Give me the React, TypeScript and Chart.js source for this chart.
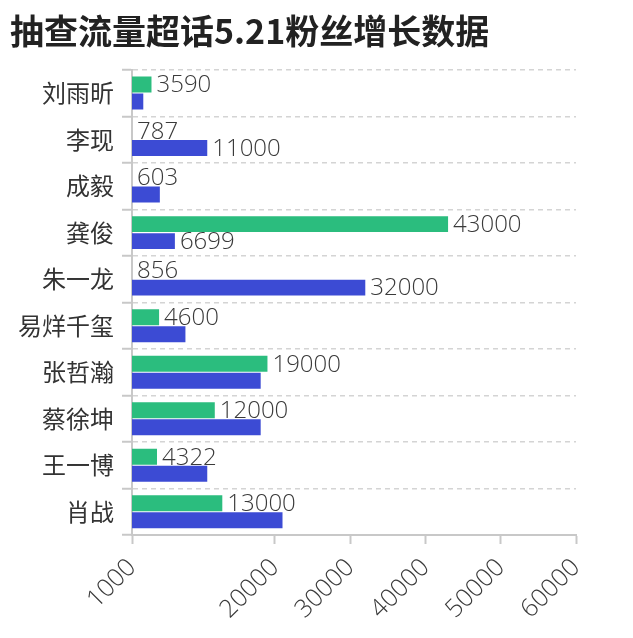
import React, { useEffect, useRef } from "react";
import { Chart, registerables } from "chart.js";

Chart.register(...registerables);

const titleText = "抽查流量超话5.21粉丝增长数据";
const categories = ["刘雨昕", "李现", "成毅", "龚俊", "朱一龙", "易烊千玺", "张哲瀚", "蔡徐坤", "王一博", "肖战"];
const greenValues = [3590, 787, 603, 43000, 856, 4600, 19000, 12000, 4322, 13000];
const blueValues = [2500, 11000, 4700, 6699, 32000, 8100, 18100, 18100, 11000, 21000];
const greenLabels = ["3590", "787", "603", "43000", "856", "4600", "19000", "12000", "4322", "13000"];
const blueLabels = [null, "11000", null, "6699", "32000", null, null, null, null, null];
const xTickValues = [1000, 20000, 30000, 40000, 50000, 60000];
const xMin = 1000;
const xMax = 60000;

const FONT = "'Noto Sans CJK SC', 'Noto Sans', sans-serif";
const NUMFONT = "'Open Sans', 'Noto Sans CJK SC', sans-serif";

const valueLabelPlugin = {
  id: "valueLabels",
  afterDatasetsDraw(chart: any) {
    const ctx = chart.ctx;
    const area = chart.chartArea;
    const labelSets = [greenLabels, blueLabels];
    ctx.save();
    ctx.font = `300 24px ${NUMFONT}`;
    ctx.fillStyle = "#3a3a3a";
    ctx.textAlign = "left";
    ctx.textBaseline = "middle";
    chart.data.datasets.forEach((ds: any, di: number) => {
      const meta = chart.getDatasetMeta(di);
      const labels = labelSets[di];
      meta.data.forEach((el: any, i: number) => {
        const t = labels[i];
        if (t == null) return;
        const x = Math.max(el.x, area.left) + 5;
        ctx.fillText(t, x, el.y + 1);
      });
    });
    ctx.restore();
  },
};

export default function App() {
  const ref = useRef<HTMLCanvasElement | null>(null);
  useEffect(() => {
    if (!ref.current) return;
    const chart = new Chart(ref.current, {
      type: "bar",
      data: {
        labels: categories,
        datasets: [
          {
            label: "a",
            data: greenValues,
            backgroundColor: "#2bbd7e",
            categoryPercentage: 0.73,
            barPercentage: 0.94,
            clip: 0,
          },
          {
            label: "b",
            data: blueValues,
            backgroundColor: "#3c4bd4",
            categoryPercentage: 0.73,
            barPercentage: 0.94,
            clip: 0,
          },
        ],
      },
      options: {
        indexAxis: "y",
        animation: false,
        responsive: false,
        maintainAspectRatio: false,
        layout: { padding: { left: 10, right: 57, top: 0, bottom: 0 } },
        plugins: {
          legend: { display: false },
          tooltip: { enabled: false },
          title: {
            display: true,
            text: titleText,
            align: "start",
            color: "#222",
            font: { family: FONT, size: 34, weight: "bold" },
            padding: { top: 11, bottom: 18 },
          },
        },
        scales: {
          x: {
            type: "linear",
            min: xMin,
            max: xMax,
            afterBuildTicks: (scale: any) => {
              scale.ticks = xTickValues.map((v) => ({ value: v }));
            },
            afterFit: (scale: any) => {
              scale.height = 103;
            },
            ticks: {
              autoSkip: false,
              minRotation: 45,
              maxRotation: 45,
              color: "#3a3a3a",
              font: { family: NUMFONT, size: 25, weight: "300" },
              padding: 9,
              callback: (v: any) => String(v),
            },
            grid: {
              drawOnChartArea: false,
              drawTicks: true,
              tickLength: 9,
              tickColor: "#c8c8c8",
              tickWidth: 2,
            },
            border: { display: true, color: "#c8c8c8", width: 2 },
          },
          y: {
            type: "category",
            afterFit: (scale: any) => {
              scale.width = 122;
            },
            ticks: {
              color: "#333",
              font: { family: FONT, size: 24 },
              padding: 8,
            },
            grid: {
              offset: true,
              color: "#d4d4d4",
              lineWidth: 1.5,
              drawTicks: true,
              tickLength: 10,
              tickColor: "#c8c8c8",
              tickWidth: 2,
              tickBorderDash: [],
            },
            border: { display: true, color: "#c8c8c8", width: 2, dash: [5, 4] },
          },
        },
      },
      plugins: [valueLabelPlugin],
    } as any);
    return () => chart.destroy();
  }, []);
  return (
    <div style={{ position: "absolute", left: 0, top: 0, width: 633, height: 638, background: "#fff" }}>
      <canvas ref={ref} width={633} height={638} style={{ width: 633, height: 638 }} />
    </div>
  );
}
